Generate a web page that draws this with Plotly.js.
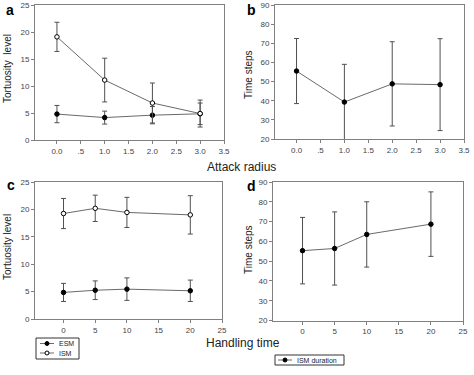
<!DOCTYPE html>
<html>
<head>
<meta charset="utf-8">
<script src="https://cdn.plot.ly/plotly-3.0.1.min.js"></script>
<style>html,body{margin:0;padding:0;background:#fff;}#chart{width:474px;height:375px;}</style>
</head>
<body>
<div id="chart"></div>
<script>
// Panel a: tortuosity vs attack radius
const radius = [0, 1, 2, 3];
const aEsm = [4.8, 4.15, 4.6, 4.85];
const aEsmErr = [1.6, 1.2, 1.6, 2.0];
const aIsm = [19.1, 11.1, 6.85, 4.9];
const aIsmErr = [2.7, 4.05, 3.7, 2.5];
// Panel b: time steps vs attack radius
const bIsm = [55.5, 39.3, 48.8, 48.4];
const bIsmErr = [17.0, 19.7, 22.0, 24.0];
// Panel c: tortuosity vs handling time
const handling = [0, 5, 10, 20];
const cEsm = [4.85, 5.25, 5.45, 5.15];
const cEsmErr = [1.65, 1.7, 2.05, 1.95];
const cIsm = [19.25, 20.2, 19.45, 19.0];
const cIsmErr = [2.75, 2.4, 2.75, 3.5];
// Panel d: time steps vs handling time
const dIsm = [55.3, 56.4, 63.5, 68.7];
const dIsmErr = [16.8, 18.5, 16.5, 16.3];

const radiusTicks = [0, 0.5, 1, 1.5, 2, 2.5, 3, 3.5];
const radiusTickText = ["0.0", ".5", "1.0", "1.5", "2.0", "2.5", "3.0", "3.5"];
const handlingTicks = [0, 5, 10, 15, 20, 25];
const tortTicks = [0, 5, 10, 15, 20, 25];
const timeTicks = [20, 30, 40, 50, 60, 70, 80, 90];
const legendC = ["ESM", "ISM"];
const legendD = ["ISM duration"];

const W = 474, H = 375;
const px = v => v / W;
const py = v => 1 - v / H;
const FONT = 'Liberation Sans, Arial, sans-serif';

const lineCol = '#6a6a6a';
const errCol = '#505050';
function tr(x, y, e, xa, ya, filled, name) {
  return {
    x: x, y: y, xaxis: xa, yaxis: ya, type: 'scatter', mode: 'lines+markers',
    name: name, showlegend: false,
    line: {color: lineCol, width: 1},
    marker: {size: 4.5, symbol: 'circle', color: filled ? '#000' : '#fff', line: {color: '#000', width: 1}},
    error_y: {type: 'data', array: e, visible: true, color: errCol, thickness: 1, width: 2.5}
  };
}

const data = [
  tr(radius, aEsm, aEsmErr, 'x', 'y', true, 'ESM'),
  tr(radius, aIsm, aIsmErr, 'x', 'y', false, 'ISM'),
  tr(radius, bIsm, bIsmErr, 'x2', 'y2', true, 'ISM duration'),
  tr(handling, cEsm, cEsmErr, 'x3', 'y3', true, 'ESM'),
  tr(handling, cIsm, cIsmErr, 'x3', 'y3', false, 'ISM'),
  tr(handling, dIsm, dIsmErr, 'x4', 'y4', true, 'ISM duration')
];

const tickFont = {family: FONT, size: 8, color: '#444'};
function ax(domain, range, tickvals, ticktext, anchor) {
  const o = {
    domain: domain, range: range, tickmode: 'array', tickvals: tickvals,
    showline: true, mirror: true, linecolor: '#808080', linewidth: 1,
    ticks: 'outside', ticklen: 3, tickcolor: '#808080', tickwidth: 1,
    showgrid: false, zeroline: false, tickfont: tickFont, anchor: anchor, fixedrange: true,
    automargin: false
  };
  if (ticktext) o.ticktext = ticktext;
  return o;
}

// manual legends (shapes + text)
const shapes = [];
const legAnn = [];
function legendBox(x0, y0, x1, y1) {
  shapes.push({type: 'rect', xref: 'paper', yref: 'paper', x0: px(x0), x1: px(x1), y0: py(y1), y1: py(y0),
    line: {color: '#333', width: 1}, fillcolor: '#fff'});
}
function legendItem(xl, yc, filled, label) {
  shapes.push({type: 'line', xref: 'paper', yref: 'paper', x0: px(xl), x1: px(xl + 14), y0: py(yc), y1: py(yc),
    line: {color: lineCol, width: 1}});
  shapes.push({type: 'circle', xref: 'paper', yref: 'paper', x0: px(xl + 5), x1: px(xl + 9), y0: py(yc + 2), y1: py(yc - 2),
    line: {color: '#000', width: 1}, fillcolor: filled ? '#000' : '#fff'});
  legAnn.push({text: label, x: px(xl + 17), y: py(yc), xref: 'paper', yref: 'paper', xanchor: 'left', yanchor: 'middle',
    showarrow: false, font: {family: FONT, size: 7, color: '#222'}});
}
legendBox(36, 338, 79, 359);
legendItem(40, 343.5, true, legendC[0]);
legendItem(40, 353, false, legendC[1]);
legendBox(275, 355, 344, 365);
legendItem(278, 360, true, legendD[0]);

const ann = (text, x, y, size, angle, color) => ({text: text, x: px(x), y: py(y), xref: 'paper', yref: 'paper',
  xanchor: 'center', yanchor: 'middle',
  showarrow: false, textangle: angle || 0, font: {family: FONT, size: size, color: color || '#222'}});

const layout = {
  width: W, height: H,
  margin: {l: 0, r: 0, t: 0, b: 0, autoexpand: false},
  paper_bgcolor: '#fff', plot_bgcolor: '#fff',
  font: {family: FONT, color: '#222'},
  showlegend: false,
  xaxis: ax([px(35), px(224)], [-0.46, 3.5], radiusTicks, radiusTickText, 'y'),
  yaxis: ax([py(140), py(5)], [0, 25], tortTicks, null, 'x'),
  xaxis2: ax([px(275), px(464)], [-0.45, 3.5], radiusTicks, radiusTickText, 'y2'),
  yaxis2: ax([py(139), py(5)], [20, 90], timeTicks, null, 'x2'),
  xaxis3: ax([px(35), px(222)], [-4.5, 25], handlingTicks, null, 'y3'),
  yaxis3: ax([py(319), py(182)], [0, 25], tortTicks, null, 'x3'),
  xaxis4: ax([px(273), px(463)], [-4.6, 25], handlingTicks, null, 'y4'),
  yaxis4: ax([py(320.5), py(182)], [20, 90], timeTicks, null, 'x4'),
  shapes: shapes,
  annotations: [
    ann('<b>a</b>', 10, 10, 14, 0, '#000'),
    ann('<b>b</b>', 252, 10, 14, 0, '#000'),
    ann('<b>c</b>', 11, 185, 14, 0, '#000'),
    ann('<b>d</b>', 251, 186, 14, 0, '#000'),
    ann('Tortuosity  level', 8, 69, 10, -90),
    ann('Time steps', 249, 75, 10, -90),
    ann('Tortuosity level', 8, 247, 10, -90),
    ann('Time steps', 248, 250, 10, -90),
    ann('Attack radius', 241, 167, 12),
    ann('Handling time', 243, 343, 12)
  ].concat(legAnn)
};

Plotly.newPlot('chart', data, layout, {displayModeBar: false, staticPlot: true});
</script>
</body>
</html>
